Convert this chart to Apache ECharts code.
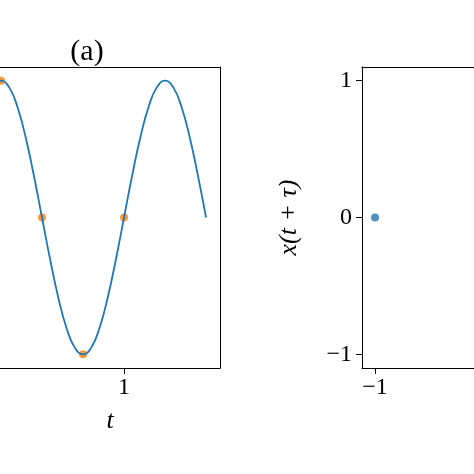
<!DOCTYPE html>
<html><head><meta charset="utf-8">
<script src="https://cdn.jsdelivr.net/npm/echarts@6/dist/echarts.min.js"></script>
<style>html,body{margin:0;padding:0;background:#fff}#c{width:474px;height:474px}</style>
</head><body><div id="c"></div>
<script>
const tValues = [0,0.05,0.1,0.15,0.2,0.25,0.3,0.35,0.4,0.45,0.5,0.55,0.6,0.65,0.7,0.75,0.8,0.85,0.9,0.95,1,1.05,1.1,1.15,1.2,1.25,1.3,1.35,1.4,1.45,1.5];
const xValues = [0,0.309,0.588,0.809,0.951,1,0.951,0.809,0.588,0.309,0,-0.309,-0.588,-0.809,-0.951,-1,-0.951,-0.809,-0.588,-0.309,0,0.309,0.588,0.809,0.951,1,0.951,0.809,0.588,0.309,0];
const sampleT = [0.25,0.5,0.75,1.0];
const sampleX = [1,0,-1,0];
const embedX = [-1];
const embedY = [0];
const F = 'Liberation Serif, DejaVu Serif, serif';
const lbl = {color:'#000',fontFamily:F,fontSize:24};
const blk = {lineStyle:{color:'#000',width:1}};
const fmt = v=>v<0?'\u2212'+(-v):''+v;
const chart = echarts.init(document.getElementById('c'));
chart.setOption({
  animation:false,
  title:{text:'(a)',left:82,top:32,textAlign:'center',textStyle:{fontFamily:F,fontSize:30,fontWeight:'normal',color:'#000'}},
  grid:[
    {left:0,top:67,width:220,height:301},
    {left:362,top:67,right:0,height:301}
  ],
  xAxis:[
    {gridIndex:0,type:'value',min:0.244,max:1.585,splitLine:{show:false},axisLine:Object.assign({onZero:false},blk),
     axisTick:{length:6,lineStyle:{color:'#000'},customValues:[1]},
     axisLabel:Object.assign({customValues:[1],margin:8},lbl),
     name:'t',nameLocation:'middle',nameGap:40,nameTextStyle:{fontFamily:F,fontSize:26,fontStyle:'italic',color:'#000'}},
    {gridIndex:0,type:'value',position:'top',min:0.244,max:1.585,splitLine:{show:false},axisLine:Object.assign({onZero:false},blk),axisTick:{show:false},axisLabel:{show:false}},
    {gridIndex:1,type:'value',min:-1.1,max:-0.24,splitLine:{show:false},axisLine:Object.assign({onZero:false},blk),
     axisTick:{length:6,lineStyle:{color:'#000'},customValues:[-1]},
     axisLabel:Object.assign({customValues:[-1],margin:8,formatter:fmt},lbl)},
    {gridIndex:1,type:'value',position:'top',min:-1.1,max:-0.24,splitLine:{show:false},axisLine:Object.assign({onZero:false},blk),axisTick:{show:false},axisLabel:{show:false}}
  ],
  yAxis:[
    {gridIndex:0,type:'value',position:'right',min:-1.1,max:1.1,splitLine:{show:false},axisLine:Object.assign({onZero:false},blk),axisTick:{show:false},axisLabel:{show:false}},
    {gridIndex:1,type:'value',min:-1.1,max:1.1,splitLine:{show:false},axisLine:Object.assign({onZero:false},blk),
     axisTick:{length:6,lineStyle:{color:'#000'},customValues:[-1,0,1]},
     axisLabel:Object.assign({customValues:[-1,0,1],margin:10,formatter:fmt},lbl),
     name:'x(t + \u03c4)',nameLocation:'middle',nameGap:60,nameRotate:90,nameTextStyle:{fontFamily:F,fontSize:26,fontStyle:'italic',color:'#000'}}
  ],
  series:[
    {type:'line',xAxisIndex:0,yAxisIndex:0,data:tValues.map((t,i)=>[t,xValues[i]]),smooth:true,showSymbol:false,lineStyle:{color:'#1f77b4',width:1.8}},
    {type:'scatter',xAxisIndex:0,yAxisIndex:0,data:sampleT.map((t,i)=>[t,sampleX[i]]),symbolSize:8,itemStyle:{color:'#ff7f0e'}},
    {type:'scatter',xAxisIndex:2,yAxisIndex:1,data:embedX.map((x,i)=>[x,embedY[i]]),symbolSize:8,itemStyle:{color:'#1f77b4'}}
  ]
});
</script></body></html>
